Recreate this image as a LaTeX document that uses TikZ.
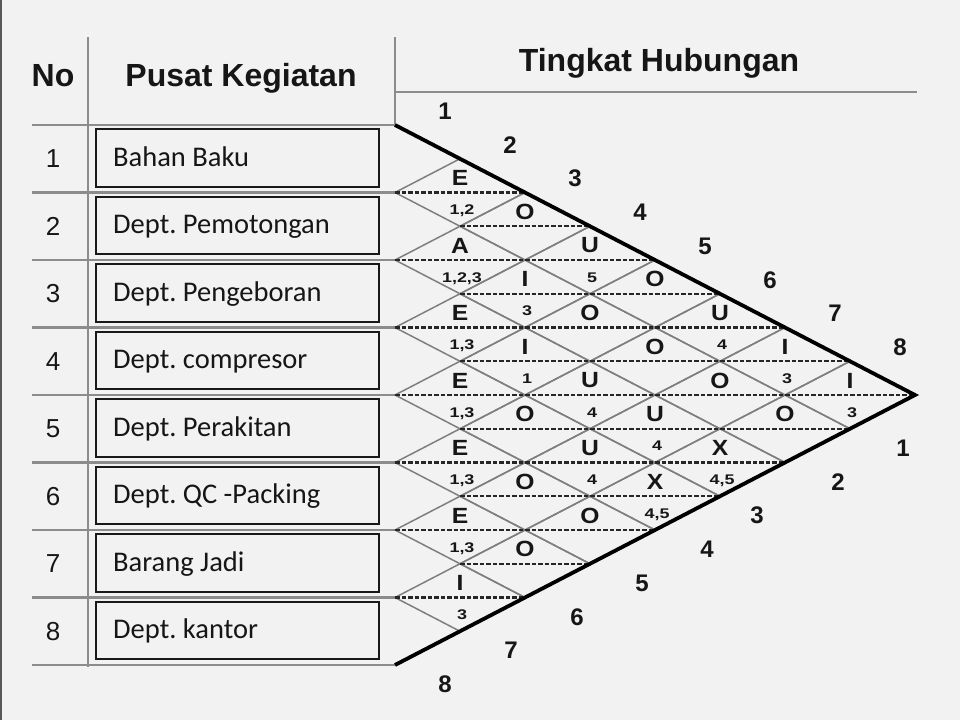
\documentclass[tikz,border=0pt]{standalone}
\usepackage{fontspec}
\setmainfont{Liberation Sans}
\newfontfamily\calfont{Carlito}
\definecolor{bgc}{HTML}{F2F2F2}
\definecolor{gridgray}{HTML}{7F7F7F}
\definecolor{tablegray}{HTML}{8C8C8C}
\definecolor{ink}{HTML}{161616}
\newcommand{\widetxt}[2]{\scalebox{#1}[1]{#2}}
\tikzset{
  diag/.style={draw=gridgray, line width=1.5pt},
  dashln/.style={draw=black!85, line width=2.2pt, dash pattern=on 4.5pt off 2pt},
  heavy/.style={draw=black, line width=3.8pt},
  tline/.style={draw=tablegray, line width=2.6pt},
  boxst/.style={draw=black!90, line width=2pt, inner sep=0pt, minimum width=283pt},
  rel/.style={font=\fontsize{22}{22}\selectfont\bfseries, inner sep=0pt, text=ink},
  rsn/.style={font=\fontsize{14}{14}\selectfont\bfseries, inner sep=0pt, text=ink},
  idx/.style={font=\fontsize{24}{24}\selectfont\bfseries, inner sep=0pt, text=ink},
  head/.style={font=\fontsize{32}{32}\selectfont\bfseries, inner sep=0pt, anchor=base, text=ink},
  rownum/.style={font=\fontsize{26}{26}\selectfont, inner sep=0pt, anchor=base, text=ink},
  boxtxt/.style={font=\calfont\fontsize{28.5}{28.5}\selectfont, inner sep=0pt, anchor=base west, text=ink}
}
\begin{document}
\frenchspacing
\begin{tikzpicture}[x=1pt,y=-1pt]
\useasboundingbox (0,0) rectangle (960,720);
\fill[bgc] (0,0) rectangle (960,720);
\draw[line width=2.5pt, black!65] (1,0) -- (1,720);

% ---- table ----
\coordinate (v1t) at (88,37);  \coordinate (v1b) at (88,667);
\coordinate (v2t) at (395,37); \coordinate (v2b) at (395,125);
\coordinate (hh1) at (395,92); \coordinate (hh2) at (917,92);
\draw[tline] (v1t) -- (v1b);
\draw[tline] (v2t) -- (v2b);
\draw[tline] (hh1) -- (hh2);
\foreach \r in {0,...,8}{
  \pgfmathsetmacro\yy{125+67.5*\r}
  \coordinate (hl\r) at (32,\yy);
  \coordinate (hr\r) at (395,\yy);
  \draw[tline] (hl\r) -- (hr\r);
}
\node[head] (hno) at (53,86) {No};
\node[head] (hpk) at (241,86) {Pusat Kegiatan};
\node[head] (hth) at (659,71) {Tingkat Hubungan};

\foreach \r/\nm in {1/Bahan Baku,2/Dept. Pemotongan,3/Dept. Pengeboran,4/Dept. compresor,5/Dept. Perakitan,6/Dept. QC -Packing,7/Barang Jadi,8/Dept. kantor}{
  \pgfmathsetmacro\yt{125+67.5*(\r-1)+4}
  \pgfmathsetmacro\yb{125+67.5*\r-6}
  \pgfmathsetmacro\ym{(\yt+\yb)/2}
  \pgfmathsetmacro\hh{\yb-\yt}
  \pgfmathsetmacro\yc{125+67.5*(\r-0.5)}
  \node[boxst, draw, minimum height=\hh pt] (b\r) at (237.5,\ym) {};
  \node[boxtxt] (bt\r) at (113,\ym+8.5) {\nm};
  \node[rownum] (n\r) at (53,\yc+9) {\r};
}

% ---- diamond grid ----
\foreach \i in {1,...,7}{
  \pgfmathtruncatemacro\ja{\i+1}
  \foreach \j in {\ja,...,8}{
    \pgfmathsetmacro\cx{395+65*(\j-\i)}
    \pgfmathsetmacro\cy{125+33.75*(\i+\j-1)}
    \draw[diag] (\cx-65,\cy) -- (\cx,\cy-33.75) -- (\cx+65,\cy) -- (\cx,\cy+33.75) -- cycle;
  }
}
\foreach \k in {2,...,14}{
  \pgfmathsetmacro\yy{125+33.75*\k}
  \pgfmathsetmacro\xl{isodd(\k) ? 460 : 395}
  \pgfmathsetmacro\xr{395+65*min(\k,16-\k)}
  \coordinate (dl\k) at (\xl,\yy);
  \coordinate (dr\k) at (\xr,\yy);
  \draw[dashln] (dl\k) -- (dr\k);
}
\coordinate (tA) at (395,125);
\coordinate (tB) at (915,395);
\coordinate (tC) at (395,665);
\draw[heavy] (tA) -- (tB) -- (tC);

% ---- relationship labels ----
\foreach \i/\j/\l/\rs in {1/2/E/{1,2},1/3/O/{},1/4/U/5,1/5/O/{},1/6/U/4,1/7/I/3,1/8/I/3,
  2/3/A/{1,2,3},2/4/I/3,2/5/O/{},2/6/O/{},2/7/O/{},2/8/O/{},
  3/4/E/{1,3},3/5/I/1,3/6/U/4,3/7/U/4,3/8/X/{4,5},
  4/5/E/{1,3},4/6/O/{},4/7/U/4,4/8/X/{4,5},
  5/6/E/{1,3},5/7/O/{},5/8/O/{},
  6/7/E/{1,3},6/8/O/{},
  7/8/I/3}{
  \pgfmathsetmacro\cx{395+65*(\j-\i)}
  \pgfmathsetmacro\cy{125+33.75*(\i+\j-1)}
  \node[rel] (L\i\j) at (\cx,\cy-14.5) {\widetxt{1.12}{\l}};
  \node[rsn, anchor=base] (R\i\j) at (\cx+2,\cy+22) {\widetxt{1.28}{\rs}};
}

% ---- index numbers ----
\foreach \k in {1,...,8}{
  \node[idx] (T\k) at ({445+65*(\k-1)},{111+33.75*(\k-1)}) {\k};
}
\foreach \k/\xx in {1/903,2/838,3/757,4/707,5/642,6/577,7/511,8/445}{
  \node[idx] (B\k) at (\xx,{448+33.75*(\k-1)}) {\k};
}
\end{tikzpicture}
\end{document}
